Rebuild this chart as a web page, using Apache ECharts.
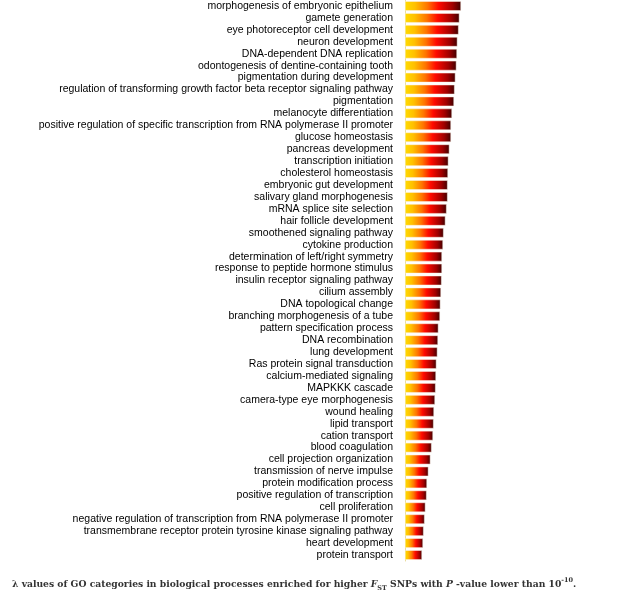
<!DOCTYPE html>
<html lang="en">
<head>
<meta charset="UTF-8">
<title>GO categories</title>
<style>
  html, body { margin: 0; padding: 0; background: #fff; }
</style>
</head>
<body>
<div id="main" style="width: 624px; height: 600px;"></div>
<script src="https://cdn.jsdelivr.net/npm/echarts@6/dist/echarts.min.js"></script>
<script type="text/javascript">
// GO categories, top to bottom
var categories = [
  'morphogenesis of embryonic epithelium',
  'gamete generation',
  'eye photoreceptor cell development',
  'neuron development',
  'DNA-dependent DNA replication',
  'odontogenesis of dentine-containing tooth',
  'pigmentation during development',
  'regulation of transforming growth factor beta receptor signaling pathway',
  'pigmentation',
  'melanocyte differentiation',
  'positive regulation of specific transcription from RNA polymerase II promoter',
  'glucose homeostasis',
  'pancreas development',
  'transcription initiation',
  'cholesterol homeostasis',
  'embryonic gut development',
  'salivary gland morphogenesis',
  'mRNA splice site selection',
  'hair follicle development',
  'smoothened signaling pathway',
  'cytokine production',
  'determination of left/right symmetry',
  'response to peptide hormone stimulus',
  'insulin receptor signaling pathway',
  'cilium assembly',
  'DNA topological change',
  'branching morphogenesis of a tube',
  'pattern specification process',
  'DNA recombination',
  'lung development',
  'Ras protein signal transduction',
  'calcium-mediated signaling',
  'MAPKKK cascade',
  'camera-type eye morphogenesis',
  'wound healing',
  'lipid transport',
  'cation transport',
  'blood coagulation',
  'cell projection organization',
  'transmission of nerve impulse',
  'protein modification process',
  'positive regulation of transcription',
  'cell proliferation',
  'negative regulation of transcription from RNA polymerase II promoter',
  'transmembrane receptor protein tyrosine kinase signaling pathway',
  'heart development',
  'protein transport'
];

// lambda values
var lambdas = [
  2.80, 2.72, 2.68, 2.62, 2.60, 2.57, 2.52, 2.48, 2.45, 2.35,
  2.30, 2.30, 2.22, 2.17, 2.15, 2.13, 2.13, 2.08, 2.02, 1.93,
  1.90, 1.85, 1.85, 1.83, 1.80, 1.77, 1.75, 1.67, 1.65, 1.62,
  1.57, 1.55, 1.53, 1.50, 1.45, 1.43, 1.40, 1.33, 1.27, 1.17,
  1.10, 1.08, 1.02, 0.98, 0.93, 0.90, 0.85
];

var chart = echarts.init(document.getElementById('main'));

// each bar: yellow -> orange -> red -> dark red
var barColor = new echarts.graphic.LinearGradient(0, 0, 1, 0, [
  { offset: 0, color: '#ffdc00' },
  { offset: 0.18, color: '#ffc000' },
  { offset: 0.4, color: '#ff7400' },
  { offset: 0.6, color: '#ff0a00' },
  { offset: 0.85, color: '#a00000' },
  { offset: 1, color: '#420000' }
]);

var option = {
  animation: false,
  grid: { left: 405, right: 99, top: -1, bottom: 39, containLabel: false },
  xAxis: {
    type: 'value',
    min: 0,
    max: 6,
    show: false
  },
  yAxis: {
    type: 'category',
    inverse: true,
    data: categories,
    axisLine: { show: true, lineStyle: { color: '#e8dc9c', width: 1 } },
    axisTick: { show: false },
    axisLabel: {
      color: '#000',
      fontFamily: 'Liberation Sans',
      fontSize: 10.5,
      margin: 12,
      interval: 0
    }
  },
  series: [{
    type: 'bar',
    data: lambdas,
    barCategoryGap: '20%',
    itemStyle: { color: barColor, borderColor: '#fbf3e6', borderWidth: 0.5 }
  }],
  graphic: [{
    type: 'text',
    left: 12,
    top: 577,
    style: {
      text: '{n|λ values of GO categories in biological processes enriched for higher }{i|F}{sub|ST}{n| SNPs with }{i|P}{n| -value lower than 10}{sup|-10}{n|.}',
      fill: '#333',
      rich: {
        n: { fontFamily: 'DejaVu Serif', fontWeight: 'bold', fontSize: 9.2, fill: '#333', lineHeight: 15, verticalAlign: 'middle' },
        i: { fontFamily: 'DejaVu Serif', fontWeight: 'bold', fontStyle: 'italic', fontSize: 9.2, fill: '#333', lineHeight: 15, verticalAlign: 'middle' },
        sub: { fontFamily: 'DejaVu Serif', fontWeight: 'bold', fontSize: 6.5, fill: '#333', lineHeight: 15, verticalAlign: 'bottom' },
        sup: { fontFamily: 'DejaVu Serif', fontWeight: 'bold', fontSize: 6.5, fill: '#333', lineHeight: 15, verticalAlign: 'top' }
      }
    }
  }]
};

chart.setOption(option);
</script>
</body>
</html>
